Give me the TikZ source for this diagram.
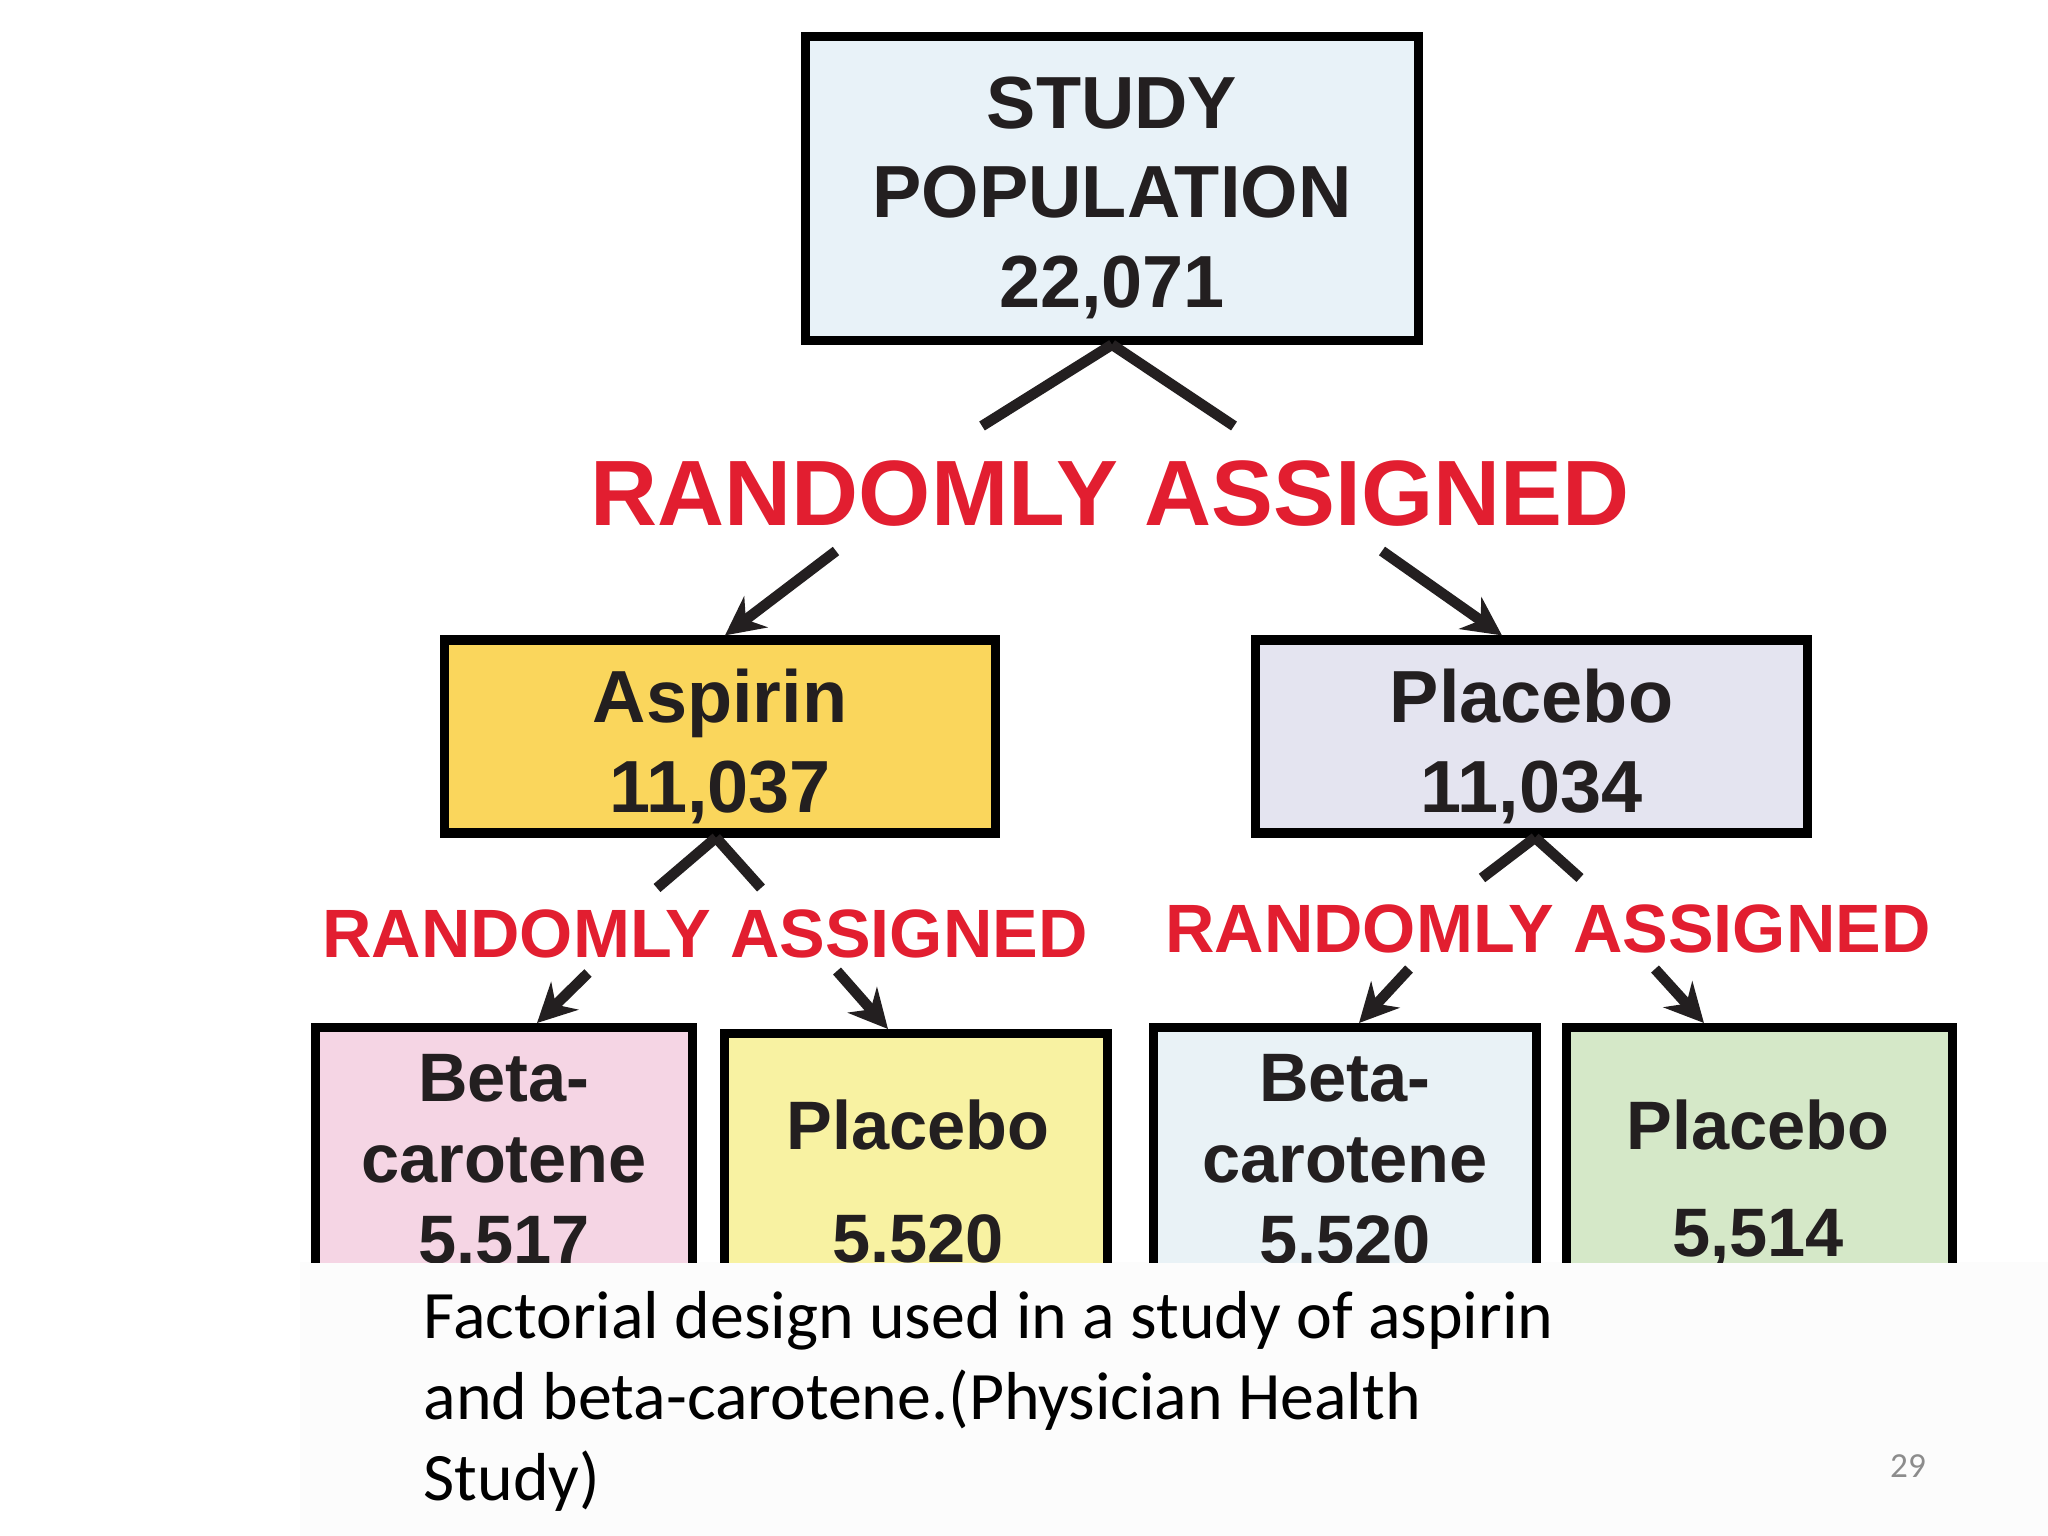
\documentclass[tikz,border=0pt]{standalone}
\usepackage{fontspec}
\setmainfont{Liberation Sans}
\newfontfamily\capfont{Carlito}
\usetikzlibrary{arrows.meta,calc}
\definecolor{txt}{RGB}{35,31,32}
\definecolor{redtxt}{RGB}{226,30,48}
\definecolor{ctop}{RGB}{232,242,248}
\definecolor{casp}{RGB}{250,214,92}
\definecolor{cplc}{RGB}{228,228,240}
\definecolor{cpink}{RGB}{245,213,228}
\definecolor{cyel}{RGB}{248,242,162}
\definecolor{cblue}{RGB}{233,242,246}
\definecolor{cgreen}{RGB}{213,232,200}
\definecolor{capbg}{RGB}{252,252,252}
\definecolor{pgnum}{RGB}{140,140,140}
\begin{document}
\begin{tikzpicture}[x=0.01cm,y=-0.01cm,
  box/.style={draw=black,line width=2.6pt,inner sep=0pt},
  lbl/.style={anchor=base,text=txt,inner sep=0pt,font=\bfseries\fontsize{21}{25}\selectfont},
  slbl/.style={anchor=base,text=txt,inner sep=0pt,font=\bfseries\fontsize{19.5}{23}\selectfont},
  bigred/.style={anchor=base,text=redtxt,inner sep=0pt,font=\bfseries\fontsize{26.4}{30}\selectfont},
  smallred/.style={anchor=base,text=redtxt,inner sep=0pt,font=\bfseries\fontsize{19.45}{23}\selectfont},
  leg/.style={line width=3pt,draw=txt},
  arr/.style={line width=3pt,draw=txt,-{Stealth[length=11pt,width=11pt]}},
  captxt/.style={anchor=base west,inner sep=0pt,font=\capfont\fontsize{19.3}{23}\selectfont}
]
\useasboundingbox (0,0) rectangle (2048,1536);
\fill[white] (0,0) rectangle (2048,1536);
\fill[capbg] (300,1262) rectangle (2048,1536);

% top box
\node[box,fill=ctop,minimum width=6.12cm,minimum height=3.03cm] (top) at (1112,188.5) {};
\node[lbl] (t1) at (1112,128) {STUDY};
\node[lbl] (t2) at (1112,217) {POPULATION};
\node[lbl] (t3) at (1112,307) {22,071};

% first randomisation
\coordinate (ul) at (982,426);
\coordinate (ur) at (1234,426);
\draw[leg] (top.south) -- (ul);
\draw[leg] (top.south) -- (ur);
\node[bigred] (r0) at (1110,525) {RANDOMLY ASSIGNED};
\coordinate (al) at (836,551);
\coordinate (ar) at (1382,551);

% second level boxes
\node[box,fill=casp,minimum width=5.50cm,minimum height=1.93cm] (asp) at (720,736.5) {};
\node[lbl] (a1) at (720,722) {Aspirin};
\node[lbl] (a2) at (720,812) {11,037};
\node[box,fill=cplc,minimum width=5.51cm,minimum height=1.93cm] (plc) at (1531.5,736.5) {};
\node[lbl] (p1) at (1531.5,722) {Placebo};
\node[lbl] (p2) at (1531.5,812) {11,034};
\draw[arr] (al) -- ([xshift=0.05cm]asp.north);
\draw[arr] (ar) -- ([xshift=-0.295cm]plc.north);

% second randomisations
\coordinate (al1) at (657,888);
\coordinate (al2) at (761,888);
\coordinate (pl1) at (1482,878);
\coordinate (pl2) at (1580,878);
\draw[leg] ([xshift=-0.04cm]asp.south) -- (al1);
\draw[leg] ([xshift=-0.04cm]asp.south) -- (al2);
\draw[leg] ([xshift=0.035cm]plc.south) -- (pl1);
\draw[leg] ([xshift=0.035cm]plc.south) -- (pl2);
\node[smallred] (r1) at (705,957) {RANDOMLY ASSIGNED};
\node[smallred] (r2) at (1548,952) {RANDOMLY ASSIGNED};
\coordinate (s1) at (588,973);
\coordinate (s2) at (837,971);
\coordinate (s3) at (1409,969);
\coordinate (s4) at (1655,969);

% bottom boxes (clipped)
\begin{scope}
\clip (0,0) rectangle (2048,1262);
\node[box,fill=cpink,minimum width=3.76cm,minimum height=3.27cm,anchor=north] (b1) at (504,1023) {};
\node[box,fill=cyel,minimum width=3.82cm,minimum height=3.27cm,anchor=north] (b2) at (916,1029) {};
\node[box,fill=cblue,minimum width=3.82cm,minimum height=3.27cm,anchor=north] (b3) at (1345,1023) {};
\node[box,fill=cgreen,minimum width=3.85cm,minimum height=3.27cm,anchor=north] (b4) at (1759.5,1023) {};
\node[slbl] (b1a) at (504,1101) {Beta-};
\node[slbl] (b1b) at (504,1182) {carotene};
\node[slbl] (b1c) at (504,1263) {5.517};
\node[slbl] (b2a) at (918,1149) {Placebo};
\node[slbl] (b2b) at (918,1262) {5.520};
\node[slbl] (b3a) at (1345,1101) {Beta-};
\node[slbl] (b3b) at (1345,1182) {carotene};
\node[slbl] (b3c) at (1345,1263) {5.520};
\node[slbl] (b4a) at (1758,1149) {Placebo};
\node[slbl] (b4b) at (1758,1256) {5,514};
\end{scope}
\draw[arr] (s1) -- ([xshift=0.33cm]b1.north);
\draw[arr] (s2) -- ([xshift=-0.28cm]b2.north);
\draw[arr] (s3) -- ([xshift=0.14cm]b3.north);
\draw[arr] (s4) -- ([xshift=-0.555cm]b4.north);

% caption
\node[captxt] (c1) at (423,1338) {Factorial design used in a study of aspirin};
\node[captxt] (c2) at (423,1419) {and beta-carotene.(Physician Health};
\node[captxt] (c3) at (423,1500) {Study)};
\node[anchor=base,inner sep=0pt,text=pgnum,font=\capfont\fontsize{10}{12}\selectfont] (pg) at (1908,1477) {29};
\end{tikzpicture}
\end{document}
